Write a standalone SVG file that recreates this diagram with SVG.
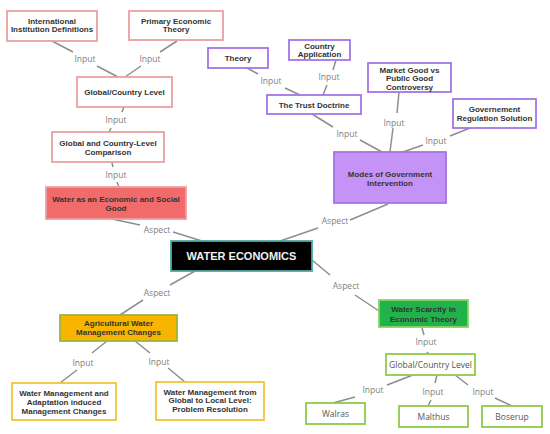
<svg xmlns="http://www.w3.org/2000/svg" width="550" height="434" viewBox="0 0 550 434">
<style>
.bg{fill:#ffffff}
rect.n{fill:#ffffff;stroke-width:1.8}
.red{stroke:#eaa0a0}
.pur{stroke:#a374e6}
.yel{stroke:#f2c535}
.grn{stroke:#8fca4c;stroke-width:2}
.t{font-family:"Liberation Sans",Arial,sans-serif;font-weight:bold;font-size:8px;fill:#333;text-anchor:middle}
.tl{font-family:"Open Sans","Noto Sans",sans-serif;font-size:8.5px;fill:#555;text-anchor:middle}
.lbl{font-family:"Open Sans","Noto Sans",sans-serif;font-size:8.5px;fill:#808080;text-anchor:middle}
#connectors path{fill:none;stroke:#8e8e8e;stroke-width:1.5}
</style>
<rect class="bg" x="0" y="0" width="550" height="434"/>
<g id="connectors">
<path d="M52,41 L73,52 M97,66 L118,77"/>
<text class="lbl" x="85" y="62">Input</text>
<path d="M177,41 L160,52 M141,66 L125,77"/>
<text class="lbl" x="150" y="62">Input</text>
<path d="M124,107 L122,112 M111,128 L109,132"/>
<text class="lbl" x="116" y="123">Input</text>
<path d="M112,163 L113,167 M117,182 L119,187"/>
<text class="lbl" x="116" y="178">Input</text>
<path d="M112,219 L140,225 M173,232 L202,241"/>
<text class="lbl" x="157" y="233">Aspect</text>
<path d="M388,204 L350,220 M318,228 L280,241"/>
<text class="lbl" x="335" y="224">Aspect</text>
<path d="M195,271 L170,285 M143,300 L120,315"/>
<text class="lbl" x="157" y="296">Aspect</text>
<path d="M312,260 L330,275 M355,295 L379,311"/>
<text class="lbl" x="346" y="289">Aspect</text>
<path d="M107,341 L92,353 M77,370 L60,383"/>
<text class="lbl" x="83" y="366">Input</text>
<path d="M135,341 L150,353 M168,368 L185,382"/>
<text class="lbl" x="159" y="365">Input</text>
<path d="M247,68 L258,74 M285,88 L300,95"/>
<text class="lbl" x="271" y="84">Input</text>
<path d="M336,60 L333,70 M327,85 L323,95"/>
<text class="lbl" x="329" y="80">Input</text>
<path d="M312,114 L333,127 M360,140 L382,152"/>
<text class="lbl" x="347" y="137">Input</text>
<path d="M399,92 L397,113 M393,128 L390,152"/>
<text class="lbl" x="394" y="126">Input</text>
<path d="M470,128 L450,136 M423,145 L403,152"/>
<text class="lbl" x="436" y="144">Input</text>
<path d="M422,328 L424,335 M427,352 L429,355"/>
<text class="lbl" x="426" y="345">Input</text>
<path d="M413,375 L387,385 M355,397 L333,403"/>
<text class="lbl" x="373" y="393">Input</text>
<path d="M437,375 L435,383 M431,400 L428,406"/>
<text class="lbl" x="433" y="395">Input</text>
<path d="M455,375 L468,385 M495,398 L512,406"/>
<text class="lbl" x="483" y="395">Input</text>
</g>
<g id="intl"><rect class="n red" x="7" y="11" width="90" height="30"/><text class="t" x="52" y="23.5">International</text><text class="t" x="52" y="32">Institution Definitions</text></g>
<g id="primary"><rect class="n red" x="129" y="11" width="94" height="29"/><text class="t" x="176" y="23.5">Primary Economic</text><text class="t" x="176" y="32">Theory</text></g>
<g id="globalRed"><rect class="n red" x="77" y="77" width="95" height="30"/><text class="t" x="124.5" y="95">Global/Country Level</text></g>
<g id="comparison"><rect class="n red" x="52" y="132" width="112" height="30"/><text class="t" x="108" y="146">Global and Country-Level</text><text class="t" x="108" y="154.5">Comparison</text></g>
<g id="waterGood"><rect x="46" y="187" width="140" height="32" fill="#f26b6b" stroke="#eaa0a0" stroke-width="1.8"/><text class="t" x="116" y="202">Water as an Economic and Social</text><text class="t" x="116" y="210.5">Good</text></g>
<g id="theory"><rect class="n pur" x="208" y="48" width="60" height="20"/><text class="t" x="238" y="60.5">Theory</text></g>
<g id="country"><rect class="n pur" x="289" y="40" width="61" height="20"/><text class="t" x="319.5" y="48.5">Country</text><text class="t" x="319.5" y="57">Application</text></g>
<g id="trust"><rect class="n pur" x="267" y="95" width="94" height="19"/><text class="t" x="314" y="107.5">The Trust Doctrine</text></g>
<g id="market"><rect class="n pur" x="368" y="63" width="83" height="29"/><text class="t" x="409.5" y="72.5">Market Good vs</text><text class="t" x="409.5" y="81">Public Good</text><text class="t" x="409.5" y="89.5">Controversy</text></g>
<g id="gov"><rect class="n pur" x="453" y="99" width="83" height="29"/><text class="t" x="494.5" y="112">Governement</text><text class="t" x="494.5" y="120.5">Regulation Solution</text></g>
<g id="modes"><rect x="334" y="152" width="112" height="51" fill="#c593f6" stroke="#a374e6" stroke-width="1.8"/><text class="t" x="390" y="177">Modes of Government</text><text class="t" x="390" y="185.5">Intervention</text></g>
<g id="center"><rect x="171" y="241" width="141" height="30" fill="#000000" stroke="#4fa7a5" stroke-width="1.8"/><text x="241.5" y="260" font-family="Liberation Sans, Arial, sans-serif" font-weight="bold" font-size="11" fill="#f0f0f0" text-anchor="middle">WATER ECONOMICS</text></g>
<g id="agri"><rect x="60" y="315" width="117" height="26" fill="#f7b500" stroke="#9db53e" stroke-width="1.8"/><text class="t" x="118.5" y="326">Agricultural Water</text><text class="t" x="118.5" y="335">Management Changes</text></g>
<g id="wm1"><rect class="n yel" x="12" y="383" width="104" height="37"/><text class="t" x="64" y="396">Water Management and</text><text class="t" x="64" y="405">Adaptation induced</text><text class="t" x="64" y="414">Management Changes</text></g>
<g id="wm2"><rect class="n yel" x="156" y="382" width="108" height="38"/><text class="t" x="210" y="394.5">Water Management from</text><text class="t" x="210" y="403">Global to Local Level:</text><text class="t" x="210" y="412">Problem Resolution</text></g>
<g id="scarcity"><rect x="379" y="300" width="89" height="27" fill="#22b24c" stroke="#8fd064" stroke-width="1.8"/><text class="t" x="423.5" y="312">Water Scarcity in</text><text class="t" x="423.5" y="321.5">Economic Theory</text></g>
<g id="globalGreen"><rect class="n grn" x="386" y="354" width="89" height="21"/><text class="tl" x="430.5" y="367.5">Global/Country Level</text></g>
<g id="walras"><rect class="n grn" x="306" y="403" width="59" height="21"/><text class="tl" x="335.5" y="416.5">Walras</text></g>
<g id="malthus"><rect class="n grn" x="399" y="406" width="69" height="21"/><text class="tl" x="433.5" y="419.5">Malthus</text></g>
<g id="boserup"><rect class="n grn" x="482" y="406" width="60" height="21"/><text class="tl" x="512" y="419.5">Boserup</text></g>
</svg>
